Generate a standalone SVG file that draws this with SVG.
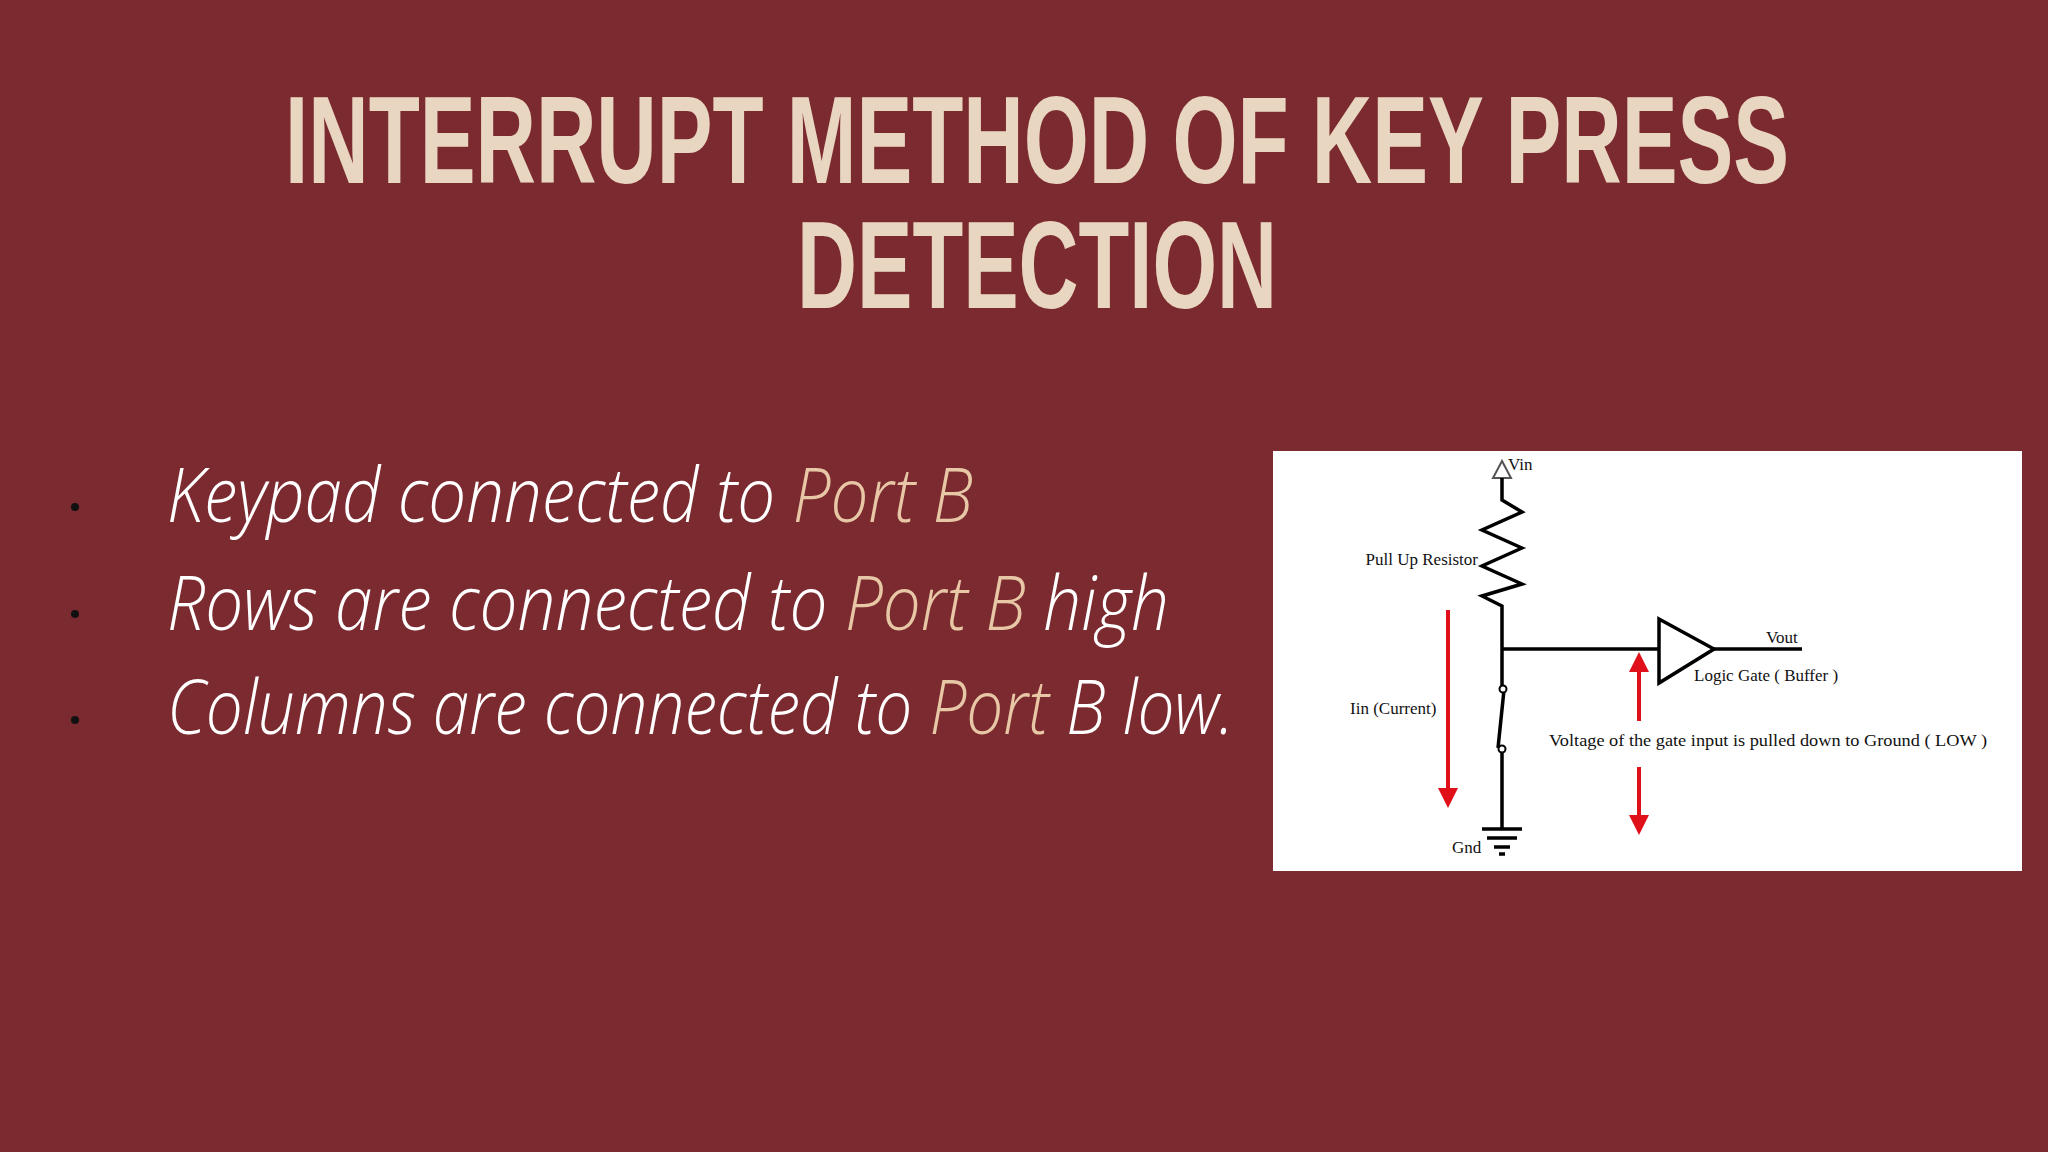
<svg xmlns="http://www.w3.org/2000/svg" width="2048" height="1152" viewBox="0 0 2048 1152">
<style>
.t{font-family:"Liberation Sans",Arial,sans-serif;font-weight:bold;fill:#e9d6c0;font-size:124px}
.b{font-family:"Open Sans","Liberation Sans",sans-serif;font-style:italic;font-weight:300;fill:#ffffff;font-size:76px}
.p{fill:#e8c7a6}
.s{font-family:"Liberation Serif","Times New Roman",serif;font-size:17px;fill:#111}
.w{stroke:#000;stroke-width:3.5;fill:none}
.r{stroke:#e0101a;stroke-width:4;fill:none}
</style>
<defs>
<marker id="ah" viewBox="0 0 10 10" refX="5" refY="5" markerWidth="5" markerHeight="5" orient="auto"><path d="M0,0L10,5L0,10z" fill="#e0101a"/></marker>
</defs>
<rect width="2048" height="1152" fill="#7b2a30"/>
<g id="title">
<text class="t" x="285" y="183" textLength="1504" lengthAdjust="spacingAndGlyphs">INTERRUPT METHOD OF KEY PRESS</text>
<text class="t" x="797" y="308" textLength="480" lengthAdjust="spacingAndGlyphs">DETECTION</text>
</g>
<g id="bullets">
<circle cx="75" cy="507" r="4" fill="#111"/>
<circle cx="75" cy="614" r="4" fill="#111"/>
<circle cx="75" cy="720" r="4" fill="#111"/>
<text class="b" x="167" y="522" textLength="806" lengthAdjust="spacingAndGlyphs">Keypad connected to <tspan class="p">Port B</tspan></text>
<text class="b" x="167" y="630" textLength="1002" lengthAdjust="spacingAndGlyphs">Rows are connected to <tspan class="p">Port B</tspan> high</text>
<text class="b" x="167" y="734" textLength="1067" lengthAdjust="spacingAndGlyphs">Columns are connected to <tspan class="p">Port</tspan> B low.</text>
</g>
<g id="circuit">
<rect x="1273" y="451" width="749" height="420" fill="#fff"/>
<polygon points="1502,461 1493,478 1511,478" fill="#fff" stroke="#555" stroke-width="2"/>
<text class="s" x="1508" y="470">Vin</text>
<path class="w" d="M1502,478V500L1522,512L1482,530L1522,548L1482,566L1522,584L1482,596L1502,606V688M1502,649H1659M1504,690L1498,748M1502,752V829M1714,649H1802"/>
<circle cx="1503" cy="689" r="3.5" fill="#fff" stroke="#000" stroke-width="2"/>
<circle cx="1502" cy="749" r="3.5" fill="#fff" stroke="#000" stroke-width="2"/>
<polygon class="w" points="1659,619 1714,649 1659,683"/>
<path class="w" d="M1482,829H1522M1487,838H1517M1494,847H1510M1499,854H1505"/>
<text class="s" x="1452" y="853">Gnd</text>
<text class="s" x="1766" y="643">Vout</text>
<text class="s" x="1694" y="681">Logic Gate ( Buffer )</text>
<text class="s" x="1478" y="565" text-anchor="end">Pull Up Resistor</text>
<text class="s" x="1350" y="714">Iin (Current)</text>
<text class="s" x="1549" y="746" textLength="438" lengthAdjust="spacingAndGlyphs">Voltage of the gate input is pulled down to Ground ( LOW )</text>
<g id="connectors">
<path class="r" d="M1448,610V798" marker-end="url(#ah)"/>
<path class="r" d="M1639,721V662" marker-end="url(#ah)"/>
<path class="r" d="M1639,767V825" marker-end="url(#ah)"/>
</g>
</g>
</svg>
